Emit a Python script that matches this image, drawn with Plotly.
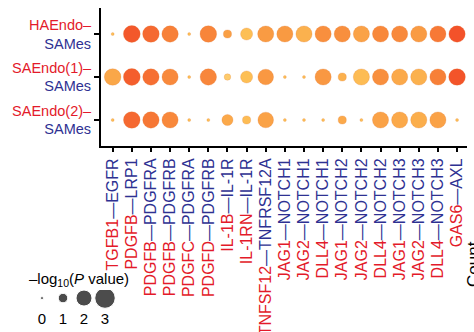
import numpy as np
import plotly.graph_objects as go

# ---------------- data ----------------
ligands = ["TGFB1", "PDGFB", "PDGFB", "PDGFB", "PDGFC", "PDGFD", "IL-1B", "IL-1RN",
           "TNFSF12", "JAG1", "JAG2", "DLL4", "JAG1", "JAG2", "DLL4", "JAG1", "JAG2",
           "DLL4", "GAS6"]
receptors = ["EGFR", "LRP1", "PDGFRA", "PDGFRB", "PDGFRA", "PDGFRB", "IL-1R", "IL-1R",
             "TNFRSF12A", "NOTCH1", "NOTCH1", "NOTCH1", "NOTCH2", "NOTCH2", "NOTCH2",
             "NOTCH3", "NOTCH3", "NOTCH3", "AXL"]
pair_top = ["HAEndo–", "SAEndo(1)–", "SAEndo(2)–"]
pair_bottom = ["SAMes", "SAMes", "SAMes"]

# -log10(P value) per row (row order as listed in pair_top)
neglogp_haendo = [0, 2.2, 2.15, 2.1, 0, 2.15, 0.8, 1.4, 2.05, 2.05, 2.05, 2.05, 2.05,
                  2.05, 2.05, 2.05, 2.05, 2.05, 2.1]
neglogp_saendo1 = [2.15, 2.2, 2.1, 2.05, 0, 2.1, 0.55, 1.4, 1.95, 0, 0, 2.05, 0.8,
                   2.05, 2.05, 2.05, 2.05, 2.05, 2.15]
neglogp_saendo2 = [0, 2.15, 2.1, 2.05, 0, 0, 1.25, 0.8, 1.95, 0, 0, 0, 0.8, 0,
                   2.05, 2.05, 2.05, 2.05, 0]

# mean expression (colour scale 0..1)
mean_haendo = [0.3, 0.93, 0.85, 0.73, 0.3, 0.7, 0.52, 0.3, 0.55, 0.56, 0.4, 0.63,
               0.63, 0.5, 0.68, 0.67, 0.55, 0.77, 0.96]
mean_saendo1 = [0.47, 0.9, 0.82, 0.67, 0.3, 0.69, 0.2, 0.3, 0.57, 0.3, 0.3, 0.57,
                0.4, 0.32, 0.63, 0.45, 0.4, 0.73, 0.95]
mean_saendo2 = [0.3, 0.85, 0.78, 0.68, 0.3, 0.3, 0.45, 0.32, 0.5, 0.3, 0.3, 0.3,
                0.45, 0.3, 0.5, 0.45, 0.42, 0.5, 0.3]

legend_values = [0, 1, 2, 3]
legend_labels = ["0", "1", "2", "3"]

# ---------------- styles ----------------
RED = "#e31a2a"
BLUE = "#2e3192"
FONT = "Liberation Sans, Arial, Helvetica, sans-serif"
W, H = 474, 332
colorscale = [[0.0, "#fee39a"], [0.3, "#fdbf55"], [0.55, "#f99b43"],
              [0.75, "#f77d37"], [1.0, "#f24a27"]]


def size_of(v):
    return np.interp(np.asarray(v, dtype=float), [0, 1, 2, 3], [3, 9.5, 16, 20.5])


rows_p = [neglogp_haendo, neglogp_saendo1, neglogp_saendo2]
rows_c = [mean_haendo, mean_saendo1, mean_saendo2]
row_y = [3, 2, 1]
ncol = len(ligands)
xs = list(range(1, ncol + 1))

fig = go.Figure()
for ry, p, c in zip(row_y, rows_p, rows_c):
    fig.add_trace(go.Scatter(
        x=xs, y=[ry] * ncol, mode="markers",
        marker=dict(size=size_of(p), color=c, colorscale=colorscale, cmin=0, cmax=1,
                    line=dict(width=0.6, color="rgba(220,110,40,0.35)"), opacity=1),
        showlegend=False, hoverinfo="skip"))

# size legend
fig.add_trace(go.Scatter(
    x=legend_values, y=[0.77] * 4, mode="markers", xaxis="x2", yaxis="y2",
    marker=dict(size=size_of(legend_values), color="black"), showlegend=False))
fig.add_trace(go.Scatter(
    x=legend_values, y=[0.15] * 4, mode="text", text=legend_labels, xaxis="x2", yaxis="y2",
    textfont=dict(size=15, color="black", family=FONT), showlegend=False))

xticktext = [f"<span style='color:{RED}'>{l}</span><span style='color:{BLUE}'>—{r}</span>"
             for l, r in zip(ligands, receptors)]
yticktext = [f"<span style='color:{RED}'>{a}</span><br><span style='color:{BLUE}'>{b}</span>"
             for a, b in zip(pair_top, pair_bottom)]

fig.update_layout(
    width=W, height=H, margin=dict(l=0, r=0, t=0, b=0),
    paper_bgcolor="white", plot_bgcolor="white",
    font=dict(family=FONT, size=14, color="black"),
    xaxis=dict(domain=[101 / W, 467 / W], range=[0.39, 19.52], tickvals=xs,
               ticktext=xticktext, tickangle=-90, showline=True, linewidth=2,
               linecolor="black", ticks="outside", ticklen=4, tickwidth=1.5,
               tickcolor="black", showgrid=False, zeroline=False, anchor="y",
               tickfont=dict(size=16, family=FONT), automargin=False),
    yaxis=dict(domain=[1 - 146 / H, 1 - 8 / H], range=[0.395, 3.605], tickvals=row_y,
               ticktext=yticktext, showline=True, linewidth=2, linecolor="black",
               ticks="outside", ticklen=5, tickwidth=1.5, tickcolor="black",
               showgrid=False, zeroline=False, anchor="x",
               tickfont=dict(size=14.5, family=FONT), automargin=False),
    xaxis2=dict(domain=[31.5 / W, 115.5 / W], range=[-0.5, 3.5], visible=False,
                anchor="y2"),
    yaxis2=dict(domain=[1 - 325 / H, 1 - 290 / H], range=[0, 1], visible=False,
                anchor="x2"),
)

fig.add_annotation(text="–log<sub>10</sub>(<i>P</i> value)", xref="paper", yref="paper",
                   x=79 / W, y=1 - 279 / H, xanchor="center", yanchor="middle",
                   showarrow=False, font=dict(size=15, family=FONT, color="black"))
fig.add_annotation(text="Count", textangle=-90, xref="paper", yref="paper",
                   x=473 / W, y=1 - 264 / H, xanchor="center", yanchor="middle",
                   showarrow=False, font=dict(size=17, family=FONT, color="black"))
fig.add_annotation(text=f"<span style='color:{RED}'>SAEndo</span>–"
                        f"<span style='color:{BLUE}'>SAMes</span>"
                        f"<span style='color:#333'> interactions</span>",
                   xref="paper", yref="paper", x=280 / W, y=1 + 8.5 / H,
                   xanchor="center", yanchor="middle", showarrow=False,
                   font=dict(size=17, family=FONT, color="#333"))
fig.add_annotation(text="<b>g</b>", xref="paper", yref="paper", x=24 / W, y=1 + 15 / H,
                   xanchor="center", yanchor="middle", showarrow=False,
                   font=dict(size=24, family=FONT, color="black"))

fig.write_html("out.html")
